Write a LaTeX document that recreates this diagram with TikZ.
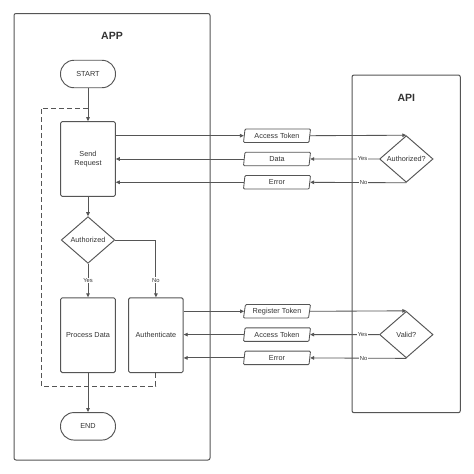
\documentclass[tikz,border=0pt]{standalone}
\usepackage{fontspec}
\setmainfont{Liberation Sans}
\usetikzlibrary{shapes.geometric,arrows.meta}
\definecolor{ln}{HTML}{555555}
\definecolor{tx}{HTML}{333333}
\begin{document}
\begin{tikzpicture}[x=1pt,y=-1pt,
  every node/.style={text=tx, font=\fontsize{7.3}{8.5}\selectfont},
  box/.style={draw=ln, line width=1pt, rounded corners=2pt, inner sep=0pt},
  proc/.style={draw=ln, line width=0.95pt, rounded corners=1.5pt, minimum width=54.6pt, minimum height=74.8pt, inner sep=0pt, align=center},
  term/.style={draw=ln, line width=0.95pt, rounded corners=13.5pt, minimum width=55pt, minimum height=27.5pt, inner sep=0pt},
  dec/.style={diamond, draw=ln, line width=0.95pt, minimum width=53.5pt, minimum height=46.6pt, inner sep=0pt},
  io/.style={trapezium, trapezium left angle=74, trapezium right angle=106, trapezium stretches body, draw=ln, line width=0.85pt, rounded corners=1pt, minimum width=67pt, minimum height=13.5pt, inner sep=0pt},
  conn/.style={draw=ln, line width=0.85pt, -{Triangle[length=4pt,width=3.6pt]}},
  loop/.style={draw=ln, line width=0.85pt, dash pattern=on 5pt off 3pt},
  lbl/.style={fill=white, inner sep=0.8pt, font=\fontsize{5.8}{6}\selectfont},
  title/.style={font=\bfseries\fontsize{10.5}{12}\selectfont}
]
\useasboundingbox (0,0) rectangle (474,474);
\fill[white] (0,0) rectangle (474,474);

% containers
\node[box, minimum width=196pt, minimum height=446.5pt] (app) at (112,236.75) {};
\node[box, minimum width=108.3pt, minimum height=337.7pt] (api) at (406.15,243.85) {};
\node[title] (apptitle) at (112,35.5) {APP};
\node[title] (apititle) at (406.3,97.5) {API};

% app nodes
\node[term] (start) at (88,74) {START};
\node[proc] (sr) at (88,159) {Send\\Request};
\node[dec] (auth) at (88,240) {Authorized};
\node[proc] (pd) at (88,335.2) {Process Data};
\node[proc] (au) at (155.9,335.2) {Authenticate};
\node[term] (end) at (88,426.3) {END};
\coordinate (lp) at (88,108);
\coordinate (lc1) at (41,108);
\coordinate (lc2) at (41,386);
\coordinate (lc3) at (155.9,386);

% api nodes
\node[dec] (az) at (406.3,159) {Authorized?};
\node[dec] (va) at (406.3,334.6) {Valid?};

% messages
\node[io] (at1) at (277,135.7) {Access Token};
\node[io] (data) at (277,159) {Data};
\node[io] (err1) at (277,182.3) {Error};
\node[io] (reg) at (277,311.3) {Register Token};
\node[io] (at2) at (277,334.6) {Access Token};
\node[io] (err2) at (277,357.9) {Error};

% app flow
\draw[conn] (start) -- (sr);
\draw[conn] (sr) -- (auth);
\draw[conn] (auth.south) -- (pd.north) node[lbl, midway] {Yes};
\draw[conn] (auth.east) -| (au.north) node[lbl, pos=0.85] {No};
\draw[conn] (pd) -- (end);
\draw[loop] (au.south) -- (lc3) -- (lc2) -- (lc1) -- (lp);

% request 1
\draw[conn] (sr.east |- at1.west) -- (at1.west);
\draw[conn] (at1.east) -- (az.north);
\draw[conn] (az.west) -- (data.east) node[lbl, pos=0.24] {Yes};
\draw[conn] (data.west) -- (sr.east |- data.west);
\draw[conn] (az.south) -- (err1.east) node[lbl, pos=0.445] {No};
\draw[conn] (err1.west) -- (sr.east |- err1.west);

% request 2
\draw[conn] (au.east |- reg.west) -- (reg.west);
\draw[conn] (reg.east) -- (va.north);
\draw[conn] (va.west) -- (at2.east) node[lbl, pos=0.24] {Yes};
\draw[conn] (at2.west) -- (au.east |- at2.west);
\draw[conn] (va.south) -- (err2.east) node[lbl, pos=0.445] {No};
\draw[conn] (err2.west) -- (au.east |- err2.west);
\end{tikzpicture}
\end{document}
